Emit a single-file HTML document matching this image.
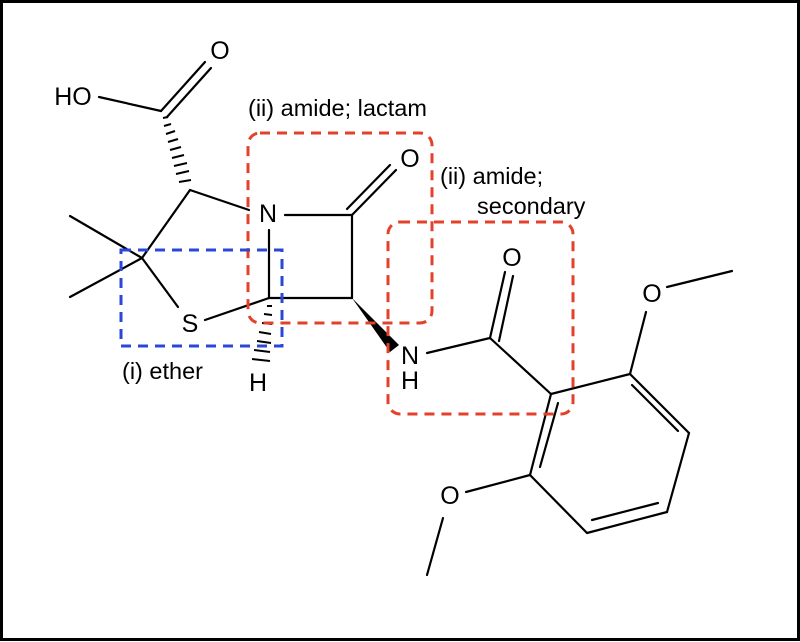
<!DOCTYPE html>
<html><head><style>
html,body{margin:0;padding:0;background:#fff}
svg{display:block}
text{font-family:"Liberation Sans",Arial,sans-serif;fill:#000}
</style></head><body>
<svg width="800" height="642" viewBox="0 0 800 642" xmlns="http://www.w3.org/2000/svg">
<rect x="1.5" y="1.5" width="797" height="638" fill="#fff" stroke="#000" stroke-width="3"/>
<g stroke="#000" stroke-width="2.2" fill="none" stroke-linecap="round">
<line x1="99" y1="97" x2="161" y2="111"/>
<line x1="161" y1="111" x2="205" y2="62"/>
<line x1="167" y1="117" x2="211" y2="68"/>
<line x1="190" y1="190" x2="249" y2="210"/>
<line x1="190" y1="190" x2="142" y2="258"/>
<line x1="142" y1="258" x2="70" y2="216"/>
<line x1="142" y1="258" x2="70" y2="297"/>
<line x1="142" y1="258" x2="178" y2="307"/>
<line x1="205" y1="320" x2="269" y2="298"/>
<line x1="269" y1="230" x2="269" y2="298"/>
<line x1="285" y1="215" x2="352" y2="215"/>
<line x1="352" y1="215" x2="396" y2="170"/>
<line x1="347" y1="209" x2="390" y2="165"/>
<line x1="352" y1="215" x2="352" y2="298"/>
<line x1="269" y1="298" x2="352" y2="298"/>
<line x1="427" y1="353" x2="490" y2="338"/>
<line x1="490" y1="338" x2="505" y2="272"/>
<line x1="499" y1="341" x2="513" y2="276"/>
<line x1="490" y1="338" x2="551" y2="394"/>
<line x1="551" y1="394" x2="630" y2="374"/>
<line x1="630" y1="374" x2="689" y2="433"/>
<line x1="632" y1="385" x2="678" y2="431"/>
<line x1="689" y1="433" x2="667" y2="512"/>
<line x1="667" y1="512" x2="587" y2="533"/>
<line x1="658" y1="503" x2="592" y2="520"/>
<line x1="587" y1="533" x2="530" y2="475"/>
<line x1="530" y1="475" x2="551" y2="394"/>
<line x1="540" y1="467" x2="558" y2="403"/>
<line x1="630" y1="374" x2="646" y2="312"/>
<line x1="667" y1="287" x2="732" y2="271"/>
<line x1="530" y1="475" x2="466" y2="492"/>
<line x1="443" y1="518" x2="427" y2="575"/>
</g>
<g stroke="#000" stroke-width="2">
<line x1="163" y1="118" x2="168" y2="117"/>
<line x1="164" y1="126" x2="171" y2="124"/>
<line x1="166" y1="134" x2="175" y2="131"/>
<line x1="168" y1="142" x2="178" y2="139"/>
<line x1="170" y1="150" x2="181" y2="147"/>
<line x1="172" y1="158" x2="184" y2="155"/>
<line x1="174" y1="166" x2="187" y2="163"/>
<line x1="176" y1="174" x2="189" y2="171"/>
<line x1="179" y1="182" x2="191" y2="180"/>
<line x1="267" y1="306" x2="272" y2="306"/>
<line x1="264" y1="314" x2="272" y2="315"/>
<line x1="262" y1="323" x2="272" y2="324"/>
<line x1="259" y1="332" x2="271" y2="334"/>
<line x1="257" y1="341" x2="271" y2="343"/>
<line x1="254" y1="350" x2="270" y2="352"/>
<line x1="252" y1="359" x2="270" y2="361"/>
</g>
<polygon points="352,298 399,345 390,352" fill="#000"/>
<g fill="none" stroke-width="3" stroke-dasharray="10,7">
<rect x="248" y="133" width="184" height="190" rx="12" stroke="#e2412a"/>
<rect x="388" y="222" width="185" height="192" rx="12" stroke="#e2412a"/>
<rect x="121" y="250" width="161" height="96" stroke="#2a47d8"/>
</g>
<g font-size="25" text-anchor="middle">
<text x="73" y="105">HO</text>
<text x="220" y="59">O</text>
<text x="268" y="222">N</text>
<text x="190" y="332">S</text>
<text x="258" y="391">H</text>
<text x="410" y="167">O</text>
<text x="410" y="364">N</text>
<text x="410" y="389">H</text>
<text x="512" y="266">O</text>
<text x="652" y="302">O</text>
<text x="450" y="504">O</text>
</g>
<g font-size="23.5">
<text x="248" y="116">(ii) amide; lactam</text>
<text x="440" y="184">(ii) amide;</text>
<text x="477" y="214">secondary</text>
<text x="122" y="379">(i) ether</text>
</g>
</svg>
</body></html>
